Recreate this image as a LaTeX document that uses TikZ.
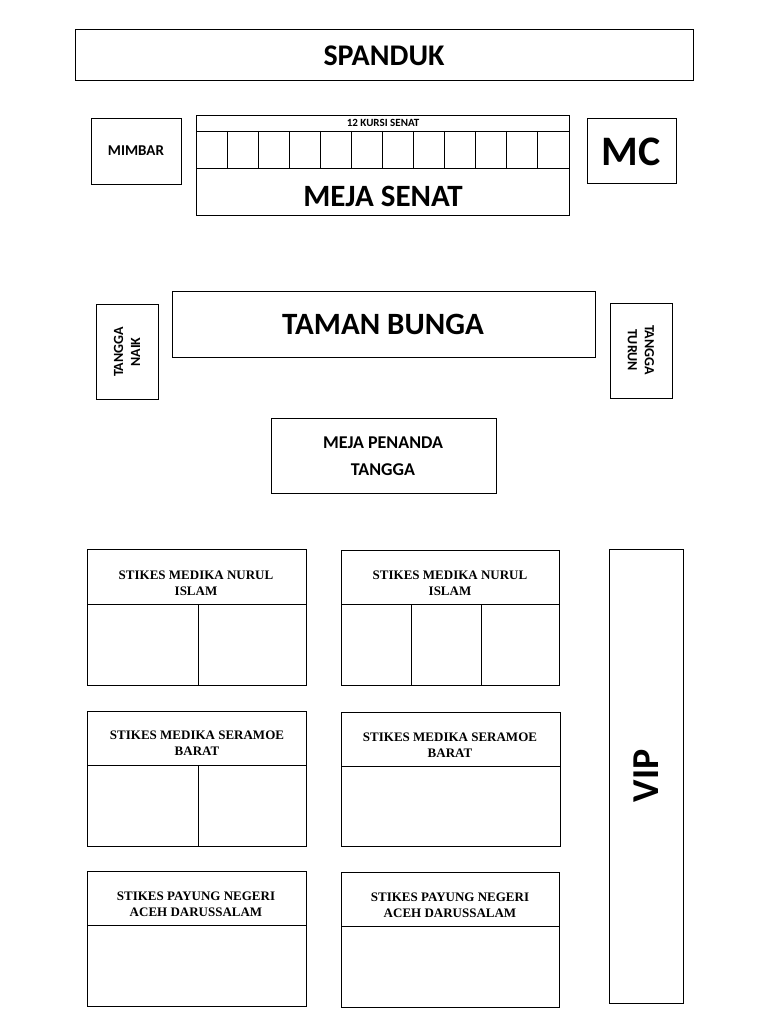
\documentclass[tikz,border=0pt]{standalone}
\usepackage{fontspec}
\setmainfont{Carlito}
\newfontfamily\serifb{Liberation Serif}
\begin{document}
\begin{tikzpicture}[x=1pt,y=-1pt,
  box/.style={draw=black,line width=0.9pt},
  lab/.style={font=\bfseries,align=center,inner sep=0pt},
  slab/.style={font=\serifb\bfseries\fontsize{13}{16}\selectfont,align=center,inner sep=0pt}]
\useasboundingbox (0,0) rectangle (768,1024);
\draw[box] (75,29) rectangle (693,80);
\node[lab,font=\bfseries\fontsize{30}{34}\selectfont] (spanduk) at (384,56) {SPANDUK};
\draw[box] (91,118) rectangle (181,184);
\node[lab,font=\bfseries\fontsize{15}{18}\selectfont] (mimbar) at (136,151) {MIMBAR};
\draw[box] (196,115) rectangle (569,215);
\draw[box] (196,131) -- (569,131);
\draw[box] (196,168) -- (569,168);
\foreach \i in {1,...,11} \draw[box] ({196+\i*373/12},131) -- ({196+\i*373/12},168);
\node[lab,font=\bfseries\fontsize{11}{13}\selectfont] (kursi) at (383,123) {12 KURSI SENAT};
\node[lab,font=\bfseries\fontsize{31}{36}\selectfont] (meja) at (383,196) {MEJA SENAT};
\draw[box] (587,118) rectangle (676,183);
\node[lab,font=\bfseries\fontsize{42}{46}\selectfont] (mc) at (631,152) {MC};
\draw[box] (96,304) rectangle (158,399);
\node[lab,rotate=90,font=\bfseries\fontsize{14}{17}\selectfont] (naik) at (127,352) {TANGGA\\NAIK};
\draw[box] (172,291) rectangle (595,357);
\node[lab,font=\bfseries\fontsize{31}{36}\selectfont] (taman) at (383,324) {TAMAN BUNGA};
\draw[box] (610,303) rectangle (672,398);
\node[lab,rotate=-90,font=\bfseries\fontsize{14}{17}\selectfont] (turun) at (641,350) {TANGGA\\TURUN};
\draw[box] (271,418) rectangle (496,493);
\node[lab,font=\bfseries\fontsize{18}{27}\selectfont] (penanda) at (383,456) {MEJA PENANDA\\TANGGA};
% blocks
\draw[box] (87,549) rectangle (306,685); \draw[box] (87,604) -- (306,604); \draw[box] (198,604) -- (198,685);
\node[slab] (b1) at (196,583) {STIKES MEDIKA NURUL\\ISLAM};
\draw[box] (341,550) rectangle (559,685); \draw[box] (341,604) -- (559,604);
\draw[box] (411,604) -- (411,685); \draw[box] (481,604) -- (481,685);
\node[slab] (b2) at (450,583) {STIKES MEDIKA NURUL\\ISLAM};
\draw[box] (87,711) rectangle (306,846); \draw[box] (87,765) -- (306,765); \draw[box] (198,765) -- (198,846);
\node[slab] (b3) at (197,743) {STIKES MEDIKA SERAMOE\\BARAT};
\draw[box] (341,712) rectangle (560,846); \draw[box] (341,766) -- (560,766);
\node[slab] (b4) at (450,745) {STIKES MEDIKA SERAMOE\\BARAT};
\draw[box] (87,871) rectangle (306,1006); \draw[box] (87,925) -- (306,925);
\node[slab] (b5) at (196,904) {STIKES PAYUNG NEGERI\\ACEH DARUSSALAM};
\draw[box] (341,872) rectangle (559,1007); \draw[box] (341,926) -- (559,926);
\node[slab] (b6) at (450,905) {STIKES PAYUNG NEGERI\\ACEH DARUSSALAM};
\draw[box] (609,549) rectangle (683,1003);
\node[lab,rotate=90,font=\bfseries\fontsize{38}{42}\selectfont] (vip) at (646,776) {VIP};
\end{tikzpicture}
\end{document}
